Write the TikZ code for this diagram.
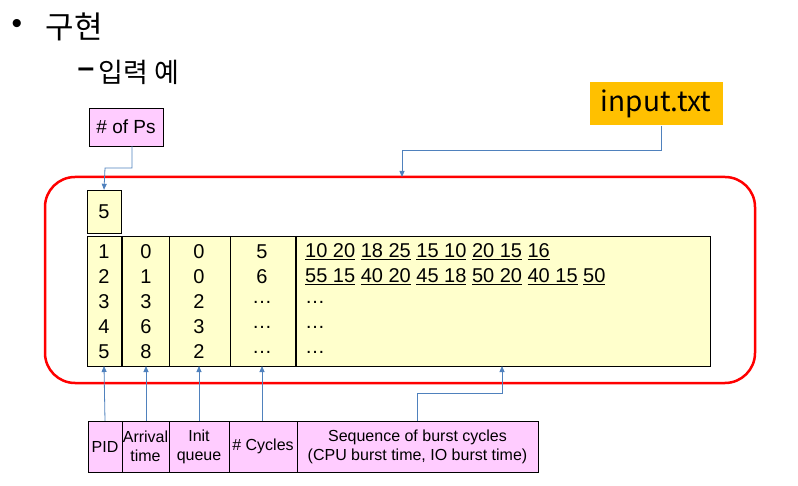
\documentclass[tikz,border=0pt]{standalone}
\usepackage{fontspec}
\setmainfont{Liberation Sans}
\newfontfamily\kr{Noto Sans CJK KR}
\definecolor{pinkf}{HTML}{FFCCFF}
\definecolor{yelf}{HTML}{FFFFCC}
\definecolor{orf}{HTML}{FFC000}
\definecolor{arr}{HTML}{4F81BD}
\usetikzlibrary{arrows.meta}
\begin{document}
\begin{tikzpicture}[x=1pt,y=-1pt,
  pinkbox/.style={draw=black,fill=pinkf,inner sep=0pt},
  yelbox/.style={draw=black,fill=yelf,inner sep=0pt},
  conn/.style={draw=arr,line width=0.8pt,-{Triangle[length=6pt,width=5pt]}},
  cell/.style={font=\fontsize{20}{20}\selectfont,anchor=center,inner sep=0pt},
  lbl/.style={font=\fontsize{16}{19}\selectfont,align=center,inner sep=0pt}]
\useasboundingbox (0,0) rectangle (798,486);
% titles
\node[anchor=west,font=\fontsize{30}{30}\selectfont] (b1) at (8,27) {•};
\node[anchor=west,font=\kr\fontsize{31}{31}\selectfont] (t1) at (42,27) {구현};
\node[anchor=west,font=\bfseries\fontsize{30}{30}\selectfont] (d1) at (74,73) {–};
\node[anchor=west,font=\kr\fontsize{27}{27}\selectfont] (t2) at (95,72) {입력 예};
% red rounded frame
\draw[red,line width=2.5pt,rounded corners=30pt] (45,177) rectangle (755,383);
\coordinate (frametop) at (402,177);
% top boxes
\node[pinkbox,minimum width=74pt,minimum height=38pt,font=\fontsize{19}{19}\selectfont] (nps) at (126,127) {\# of Ps};
\node[fill=orf,minimum width=133pt,minimum height=43pt,inner sep=0pt,font=\kr\fontsize{28}{28}\selectfont] (inp) at (656,104) {input.txt};
% 5 box
\node[yelbox,minimum width=34pt,minimum height=43pt] (five) at (104,211.5) {};
\node[cell] at (104,212) {5};
% table
\draw[fill=yelf,draw=black,line width=0.8pt] (87,236) rectangle (710,366);
\draw[line width=1.6pt] (122,236) -- (122,366);
\draw[line width=0.6pt] (169,236) -- (169,366);
\draw[line width=0.6pt] (230,236) -- (230,366);
\draw[line width=1.6pt] (296,236) -- (296,366);
\coordinate (c1) at (104,366);
\coordinate (c2) at (146,366);
\coordinate (c3) at (199,366);
\coordinate (c4) at (262,366);
\coordinate (c5) at (502,366);
\foreach \y/\a/\b/\c/\d in {252/1/0/0/5,277/2/1/0/6,302/3/3/2/…,327/4/6/3/…,352/5/8/2/…}{
  \node[cell] at (104,\y) {\a};
  \node[cell] at (146,\y) {\b};
  \node[cell] at (199,\y) {\c};
  \node[cell] at (262,\y) {\d};
}
\node[cell,anchor=west] at (305,252) {\underline{10 20} \underline{18 25} \underline{15 10} \underline{20 15} \underline{16}};
\node[cell,anchor=west] at (305,277) {\underline{55 15} \underline{40 20} \underline{45 18} \underline{50 20} \underline{40 15} \underline{50}};
\node[cell,anchor=west] at (305,302) {…};
\node[cell,anchor=west] at (305,327) {…};
\node[cell,anchor=west] at (305,352) {…};
% bottom labels
\node[pinkbox,minimum width=34pt,minimum height=51pt,lbl] (pid) at (105,446.5) {PID};
\node[pinkbox,minimum width=47pt,minimum height=51pt,lbl] (arv) at (145.5,446.5) {Arrival\\time};
\node[pinkbox,minimum width=60pt,minimum height=51pt,lbl] (iq) at (199,446.5) {Init\\queue};
\node[pinkbox,minimum width=68pt,minimum height=51pt,lbl] (cyc) at (263,446.5) {\# Cycles};
\node[pinkbox,minimum width=241pt,minimum height=51pt,lbl] (seq) at (417.5,446.5) {Sequence of burst cycles\\(CPU burst time, IO burst time)};
% connectors
\draw[conn] (nps.south -| 132,0) |- (105,168) -- (five.north);
\draw[conn] (inp.south -| 661,0) |- (402,150) -- (frametop);
\draw[conn] (pid.north) -- (c1);
\draw[conn] (arv.north -| c2) -- (c2);
\draw[conn] (iq.north) -- (c3);
\draw[conn] (cyc.north -| c4) -- (c4);
\draw[conn] (seq.north) |- (502,393) -- (c5);
\end{tikzpicture}
\end{document}
